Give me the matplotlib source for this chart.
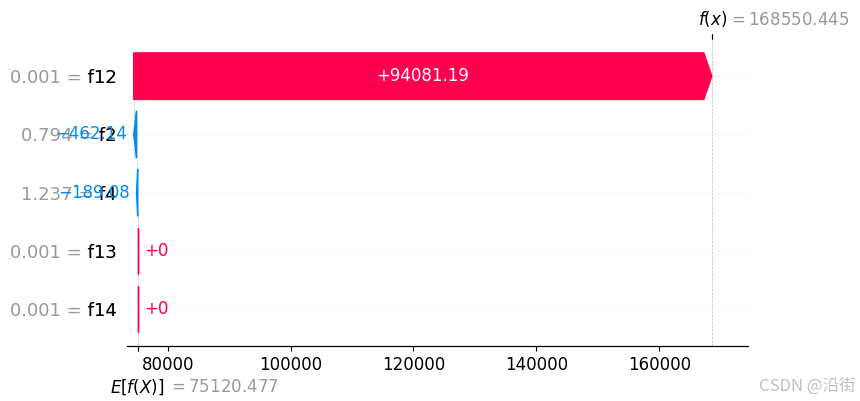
import re
import numpy as np
import matplotlib
matplotlib.use("Agg")
import matplotlib.pyplot as plt
from matplotlib.transforms import ScaledTranslation

# values (top row first)
features = ["f12", "f2", "f4", "f13", "f14"]
feature_vals = [0.001, 0.794, 1.237, 0.001, 0.001]
shap_vals = [94081.19, -462.14, -189.08, 0.0, 0.0]
base_value = 75120.477
fx_value = 168550.445
x_ticks = [80000, 100000, 120000, 140000, 160000]

red = "#ff0051"
blue = "#008bfb"


def format_value(s, fmt):
    s = fmt % s
    s = re.sub(r"\.?0+$", "", s)
    if s[0] == "-":
        s = "\u2212" + s[1:]
    return s


fig = plt.figure(figsize=(8.6, 4.01), dpi=100)
ax = fig.add_axes([0.1473, 0.136, 0.7221, 0.767])
ax.set_xlim(73330, 174385)
ax.set_ylim(-0.64, 4.64)

n = len(features)
rng = list(range(n - 1, -1, -1))

# arrow head length in data units
head_length = 0.08
bar_width = 0.8
xlen = ax.get_xlim()[1] - ax.get_xlim()[0]
bbox = ax.get_window_extent().transformed(fig.dpi_scale_trans.inverted())
bbox_to_xscale = xlen / bbox.width
hl_scaled = bbox_to_xscale * head_length
renderer = fig.canvas.get_renderer()

for i in range(n):
    ax.axhline(i, color="#cccccc", lw=0.5, dashes=(1, 5), zorder=-1)

loc = fx_value
ylabels = [""] * n
for i in range(n):
    sval = shap_vals[i]
    loc -= sval
    y = rng[i]
    ylabels[y] = format_value(feature_vals[i], "%0.03f") + " = " + features[i]
    if sval >= 0:
        arr = ax.arrow(loc, y, max(sval - hl_scaled, 0.000001), 0,
                       head_length=min(sval, hl_scaled), color=red,
                       width=bar_width, head_width=bar_width)
        txt = ax.text(loc + 0.5 * sval, y, format_value(sval, "%+0.02f"),
                      ha="center", va="center", color="white", fontsize=12)
        if txt.get_window_extent(renderer).width > arr.get_window_extent(renderer).width:
            txt.remove()
            ax.text(loc + (5 / 72) * bbox_to_xscale + sval, y, format_value(sval, "%+0.02f"),
                    ha="left", va="center", color=red, fontsize=12)
    else:
        left = loc
        arr = ax.arrow(left, y, -max(-sval - hl_scaled, 0.000001), 0,
                       head_length=min(-sval, hl_scaled), color=blue,
                       width=bar_width, head_width=bar_width)
        txt = ax.text(left + 0.5 * sval, y, format_value(sval, "%+0.02f"),
                      ha="center", va="center", color="white", fontsize=12)
        if txt.get_window_extent(renderer).width > arr.get_window_extent(renderer).width:
            txt.remove()
            ax.text(left - (5 / 72) * bbox_to_xscale + sval, y, format_value(sval, "%+0.02f"),
                    ha="right", va="center", color=blue, fontsize=12)
    # connecting lines between bars
    if i < n - 1:
        ax.plot([loc, loc], [y - 1 - 0.4, y + 0.4], color="#bbbbbb",
                linestyle="--", linewidth=0.5, zorder=-1)

ax.axvline(base_value, 0, 1 / n, color="#bbbbbb", linestyle="--", linewidth=0.5, zorder=-1)
ax.axvline(fx_value, 0, 1, color="#bbbbbb", linestyle="--", linewidth=0.5, zorder=-1)

# gray "value = name" labels with black names on top
ax.set_yticks(list(range(n)) + list(np.arange(n) + 1e-8))
ax.set_yticklabels(ylabels + [l.split("=")[-1] for l in ylabels], fontsize=13)
for t in ax.yaxis.get_majorticklabels()[:n]:
    t.set_color("#999999")
ax.tick_params("y", length=0, pad=7)
ax.set_xticks(x_ticks)
ax.tick_params("x", labelsize=12)
for s in ["top", "left", "right"]:
    ax.spines[s].set_visible(False)

# E[f(X)] label under the axis
xmin, xmax = ax.get_xlim()
ax2 = ax.twiny()
ax2.set_xlim(xmin, xmax)
ax2.xaxis.tick_bottom()
ax2.set_xticks([base_value, base_value + 1e-8])
ax2.set_xticklabels(["\n$E[f(X)]$", "\n$ = " + format_value(base_value, "%0.03f") + "$"],
                    fontsize=12, ha="left")
for s in ["top", "left", "right"]:
    ax2.spines[s].set_visible(False)

# f(x) label above the axis
ax3 = ax2.twiny()
ax3.set_xlim(xmin, xmax)
ax3.set_xticks([fx_value, fx_value + 1e-8])
ax3.set_xticklabels(["$f(x)$", "$ = " + format_value(fx_value, "%0.03f") + "$"],
                    fontsize=12, ha="left")
tl = ax3.xaxis.get_majorticklabels()
tl[0].set_transform(tl[0].get_transform() + ScaledTranslation(-10 / 72., 0, fig.dpi_scale_trans))
tl[1].set_transform(tl[1].get_transform() + ScaledTranslation(12 / 72., 0, fig.dpi_scale_trans))
tl[1].set_color("#999999")
for s in ["top", "left", "right", "bottom"]:
    ax3.spines[s].set_visible(False)

tl = ax2.xaxis.get_majorticklabels()
tl[0].set_transform(tl[0].get_transform() + ScaledTranslation(-20 / 72., 0, fig.dpi_scale_trans))
tl[1].set_transform(tl[1].get_transform() + ScaledTranslation(22 / 72., -1 / 72., fig.dpi_scale_trans))
tl[1].set_color("#999999")

fig.text(0.995, 0.015, "CSDN @沿街", ha="right", va="bottom", fontsize=12,
         color="#c0c0c0", family=["Noto Sans CJK SC", "DejaVu Sans"])

fig.savefig("out.png", dpi=100)
